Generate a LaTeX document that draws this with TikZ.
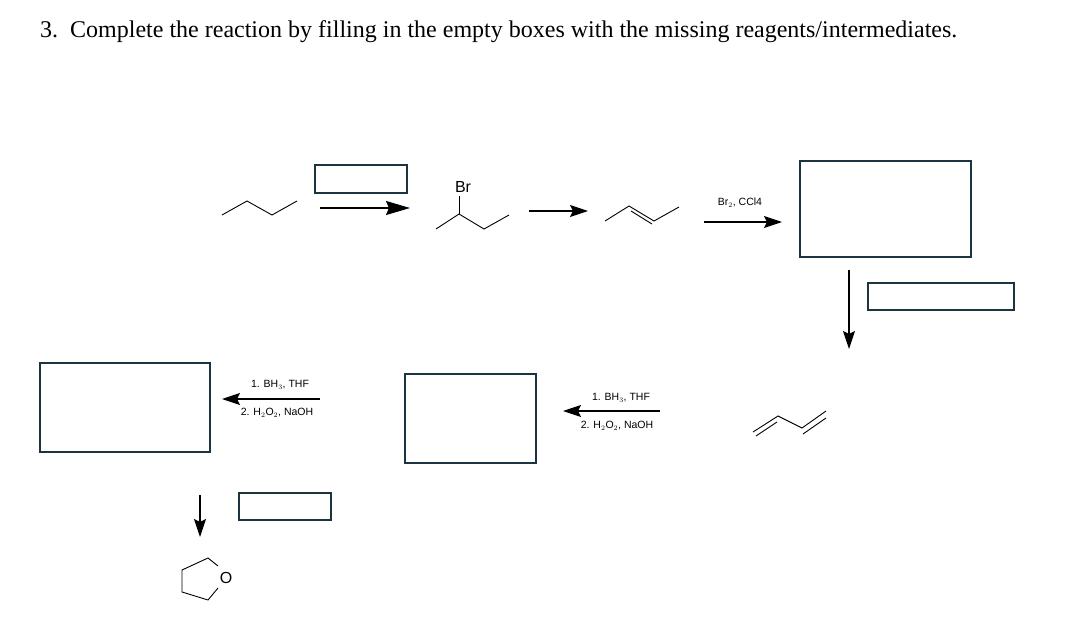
\documentclass[tikz,border=0pt]{standalone}
\usepackage{fontspec}
\setmainfont{Liberation Serif}
\newfontfamily\chemsans{Liberation Sans}
\usetikzlibrary{arrows.meta}
\definecolor{boxc}{HTML}{1C3340}
\begin{document}
\begin{tikzpicture}[x=1pt,y=-1pt,
  ebox/.style={draw=boxc,line width=1.6pt},
  bond/.style={line width=0.9pt},
  rxn/.style={line width=1.6pt,-{Stealth[length=24pt,width=14pt,inset=3pt]}},
  rxns/.style={line width=1.5pt,-{Stealth[length=18pt,width=12pt,inset=3pt]}},
  lbl/.style={font=\chemsans\fontsize{10.5}{12}\selectfont,inner sep=0pt}]
\useasboundingbox[fill=white] (0,0) rectangle (1065,621);
\node[anchor=west,font=\fontsize{24}{28}\selectfont,inner sep=0pt] (title) at (40,32) {3.\ \ Complete the reaction by filling in the empty boxes with the missing reagents/intermediates.};
% butane
\draw[bond] (222,215)--(247,201)--(272,215)--(297,201);
\draw[ebox] (315,165) rectangle (407,193);
\coordinate (a1s) at (320,208); \coordinate (a1e) at (410,208);
\draw[rxn] (a1s)--(a1e);
% 2-bromobutane
\node[font=\chemsans\fontsize{16}{18}\selectfont,inner sep=0pt] (br) at (463,187) {Br};
\draw[bond] (459,196)--(459,214);
\draw[bond] (436,229)--(459,214)--(484,229)--(509,215);
\coordinate (a2s) at (529,211); \coordinate (a2e) at (588,211);
\draw[rxns] (a2s)--(a2e);
% 2-butene
\draw[bond] (605,221)--(629,206)--(654,221)--(679,207);
\draw[bond] (631,211)--(652,224);
\node[lbl] (l3) at (740,203) {Br$_2$, CCl4};
\coordinate (a3s) at (704,222); \coordinate (a3e) at (782,222);
\draw[rxns] (a3s)--(a3e);
\draw[ebox] (800,161) rectangle (971,257);
\coordinate (a4s) at (849,270); \coordinate (a4e) at (849,349);
\draw[rxns] (a4s)--(a4e);
\draw[ebox] (868,283) rectangle (1014,310);
% butadiene
\draw[bond] (753,432)--(778,416)--(802,428)--(826,411);
\draw[bond] (756,436)--(777,422);
\draw[bond] (803,434)--(826,418);
% middle
\coordinate (a5s) at (660,411); \coordinate (a5e) at (563,411);
\draw[rxns] (a5s)--(a5e);
\node[lbl] (l5a) at (621,398) {1. BH$_3$, THF};
\node[lbl] (l5b) at (617,426) {2. H$_2$O$_2$, NaOH};
\draw[ebox] (405,374) rectangle (536,463);
\coordinate (a6s) at (320,399); \coordinate (a6e) at (222,399);
\draw[rxns] (a6s)--(a6e);
\node[lbl] (l6a) at (280,385) {1. BH$_3$, THF};
\node[lbl] (l6b) at (277,413) {2. H$_2$O$_2$, NaOH};
\draw[ebox] (40,363) rectangle (210,452);
\coordinate (a7s) at (200,495); \coordinate (a7e) at (200,537);
\draw[rxns] (a7s)--(a7e);
\draw[ebox] (239,493) rectangle (331,520);
% THF
\node[font=\chemsans\fontsize{16}{18}\selectfont,inner sep=0pt] (O) at (226,578) {O};
\draw[bond] (218,566)--(208,558)--(182,570)--(182,592)--(208,600)--(218,588);
\end{tikzpicture}
\end{document}
